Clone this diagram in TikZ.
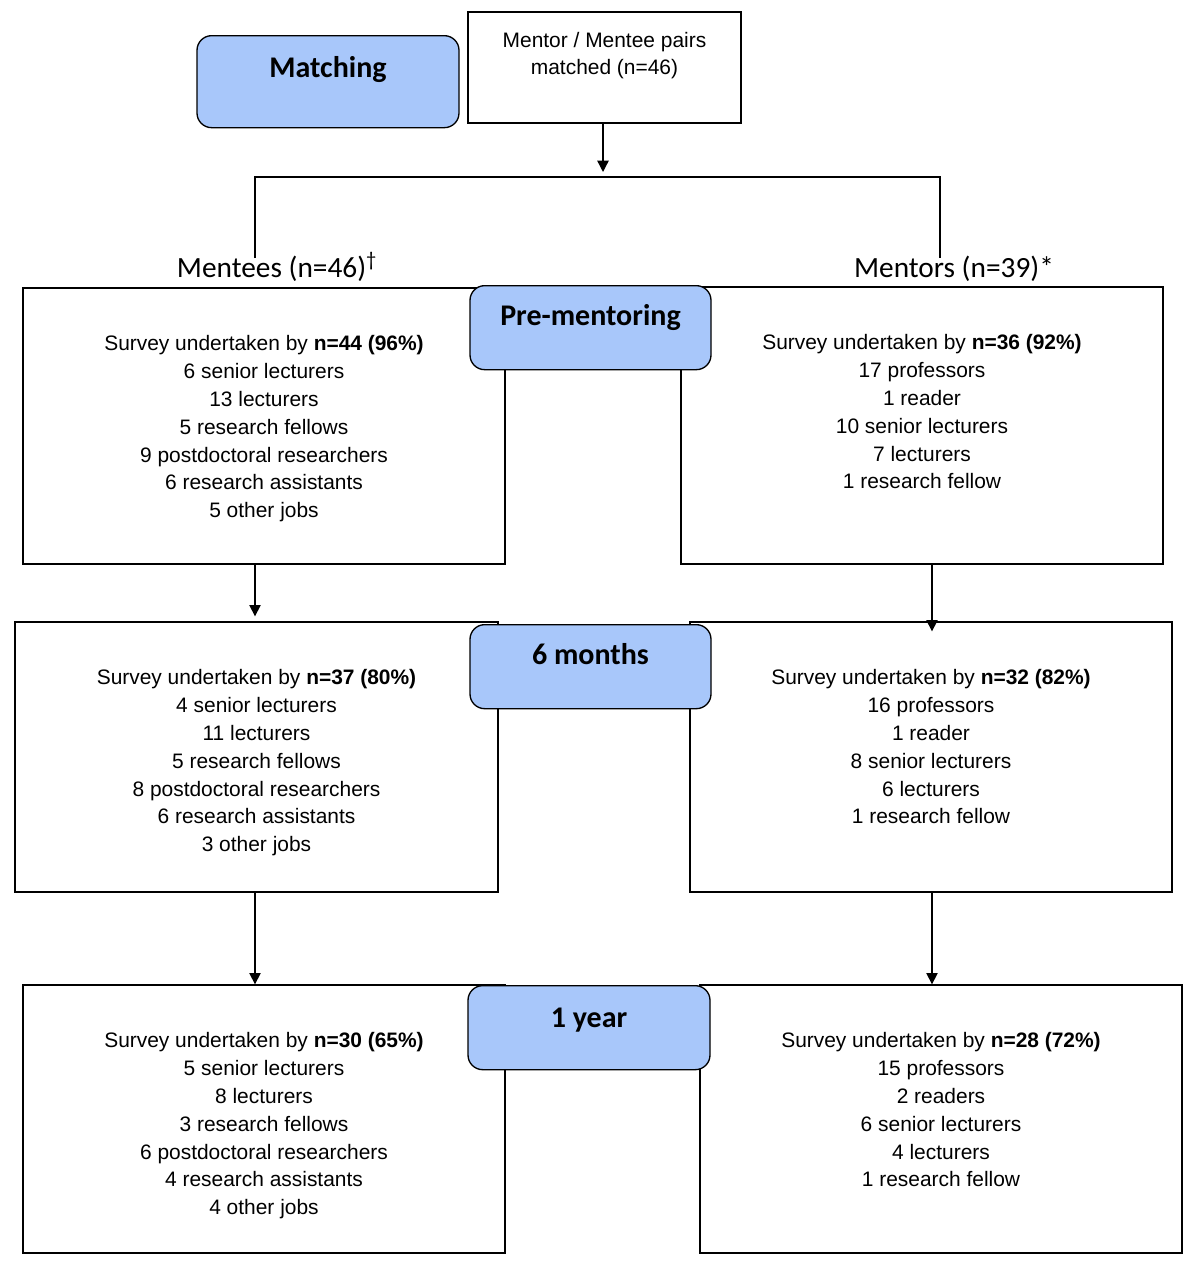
\documentclass[tikz,border=0pt]{standalone}
\usepackage{fontspec}
\setmainfont{Liberation Sans}
\newfontfamily\calibri{Carlito}
\usetikzlibrary{arrows.meta,fit}

\definecolor{stageblue}{RGB}{168,199,250}

\tikzset{
  databox/.style={draw, line width=1pt, inner sep=0pt},
  stagebox/.style={draw, line width=1pt, fill=stageblue, rounded corners=11pt,
    inner sep=0pt, anchor=north, minimum width=180.75pt,
    font=\calibri\bfseries\fontsize{22.5}{27}\selectfont},
  listtext/.style={align=center, inner sep=0pt, anchor=north,
    font=\fontsize{15.7}{20.85}\selectfont},
  grouplabel/.style={anchor=base, inner sep=0pt,
    font=\calibri\fontsize{22}{26}\selectfont},
  flow/.style={line width=1pt, -{Triangle[width=8.5pt,length=8.5pt]}},
  splitline/.style={line width=1pt}
}

\begin{document}
\begin{tikzpicture}[x=0.75pt,y=-0.75pt]
\useasboundingbox (0,0) rectangle (1200,1267);

%Boxes
\node[databox, fit={(468,12) (741,123)}] (pairs) {};
\node[databox, fit={(23,288) (505,564)}] (mte1) {};
\node[databox, fit={(681,287) (1163,564)}] (mtr1) {};
\node[databox, fit={(15,622) (498,892)}] (mte2) {};
\node[databox, fit={(690,622) (1172,892)}] (mtr2) {};
\node[databox, fit={(23,985) (505,1253)}] (mte3) {};
\node[databox, fit={(700,985) (1182,1253)}] (mtr3) {};

% Text Node
\node[listtext, font=\fontsize{15.7}{20.25}\selectfont] (pairstxt) at (604.5,32.5) {Mentor / Mentee pairs\\matched (n=46)};
% Text Node
\node[listtext] (mte1txt) at (264,335.5) {Survey undertaken by \textbf{n=44 (96\%)}\\6 senior lecturers\\13 lecturers\\5 research fellows\\9 postdoctoral researchers\\6 research assistants\\5 other jobs};
% Text Node
\node[listtext] (mtr1txt) at (922,334.5) {Survey undertaken by \textbf{n=36 (92\%)}\\17 professors\\1 reader\\10 senior lecturers\\7 lecturers\\1 research fellow};
% Text Node
\node[listtext] (mte2txt) at (256.5,669.5) {Survey undertaken by \textbf{n=37 (80\%)}\\4 senior lecturers\\11 lecturers\\5 research fellows\\8 postdoctoral researchers\\6 research assistants\\3 other jobs};
% Text Node
\node[listtext] (mtr2txt) at (931,669.5) {Survey undertaken by \textbf{n=32 (82\%)}\\16 professors\\1 reader\\8 senior lecturers\\6 lecturers\\1 research fellow};
% Text Node
\node[listtext] (mte3txt) at (264,1032.5) {Survey undertaken by \textbf{n=30 (65\%)}\\5 senior lecturers\\8 lecturers\\3 research fellows\\6 postdoctoral researchers\\4 research assistants\\4 other jobs};
% Text Node
\node[listtext] (mtr3txt) at (941,1032.5) {Survey undertaken by \textbf{n=28 (72\%)}\\15 professors\\2 readers\\6 senior lecturers\\4 lecturers\\1 research fellow};

%Stages
\node[stagebox, minimum width=196.5pt, text height=31pt, text depth=38pt] (matching) at (328,35) {Matching};
\node[stagebox, text height=30.1pt, text depth=32.9pt] (pre) at (590.5,285) {Pre-mentoring};
\node[stagebox, text height=29.6pt, text depth=33.4pt] (sixm) at (590.5,624) {6 months};
\node[stagebox, minimum width=181.5pt, text height=31.4pt, text depth=31.6pt] (oney) at (589,985) {1 year};

% Text Node
\node[grouplabel] (mentees) at (277,277) {Mentees (n=46)\textsuperscript{†}};
% Text Node
\node[grouplabel] (mentors) at (954,277) {Mentors (n=39)*};

\coordinate (split) at (603,177);
\coordinate (mteeend) at (255,258);
\coordinate (mtorend) at (940,258);
\coordinate (lx) at (255,0);
\coordinate (rx) at (932,0);

%Straight Lines
\draw[flow, shorten >=3.75pt] (pairs.south -| split) -- (split);
\draw[splitline] (mteeend) |- (split) -| (mtorend);
\draw[flow, shorten >=3.75pt] (mte1.south -| lx) -- (mte2.north -| lx);
\draw[flow, shorten >=-7.5pt] (mtr1.south -| rx) -- (mtr2.north -| rx);
\draw[flow] (mte2.south -| lx) -- (mte3.north -| lx);
\draw[flow] (mtr2.south -| rx) -- (mtr3.north -| rx);

\end{tikzpicture}
\end{document}
